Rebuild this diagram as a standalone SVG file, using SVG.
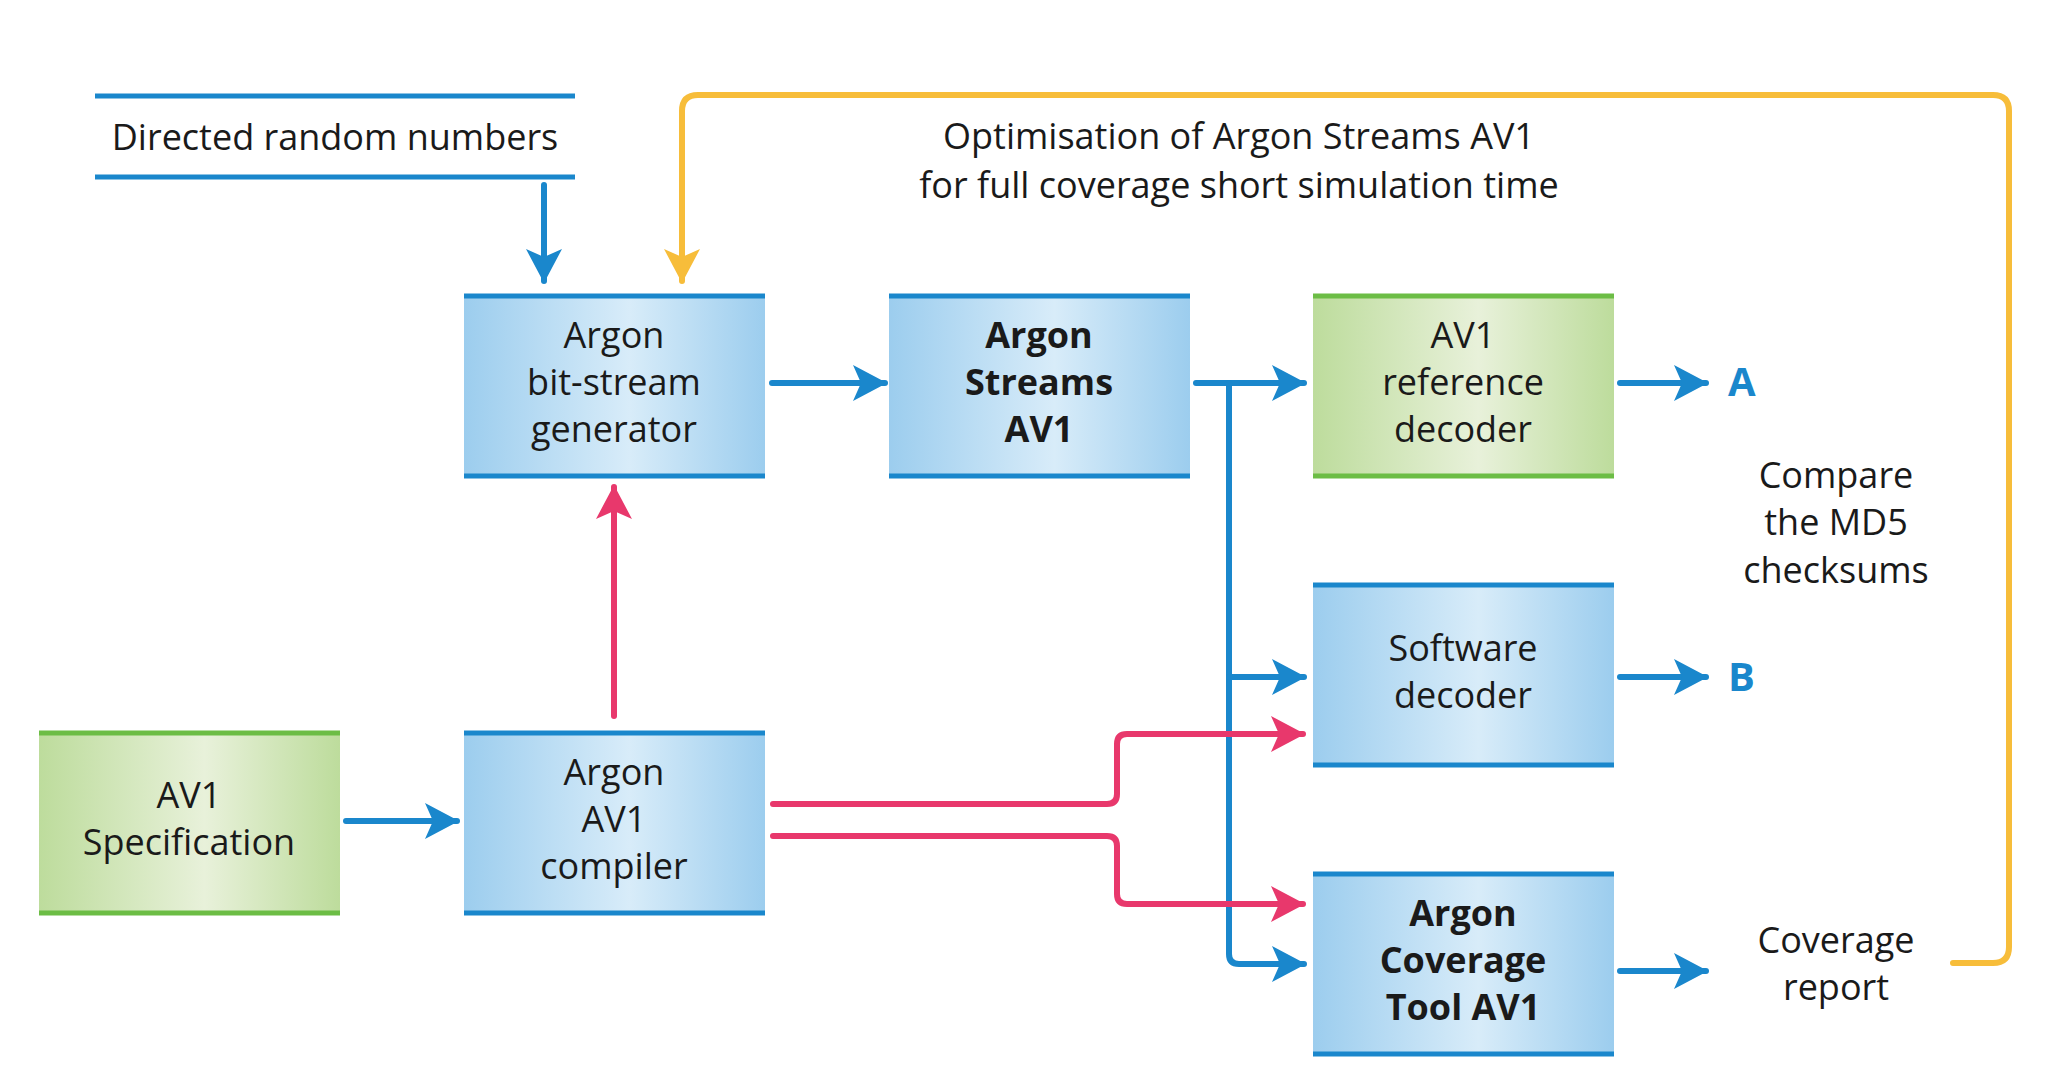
<svg xmlns="http://www.w3.org/2000/svg" width="2048" height="1092" viewBox="0 0 2048 1092">
<defs>
<linearGradient id="gb" x1="0" x2="1" y1="0" y2="0"><stop offset="0" stop-color="#9ccdee"/><stop offset="0.55" stop-color="#d8ecf9"/><stop offset="1" stop-color="#9ccdee"/></linearGradient>
<linearGradient id="gg" x1="0" x2="1" y1="0" y2="0"><stop offset="0" stop-color="#bddc9c"/><stop offset="0.55" stop-color="#e8f1da"/><stop offset="1" stop-color="#bddc9c"/></linearGradient>
<marker id="ab" markerUnits="userSpaceOnUse" markerWidth="40" markerHeight="40" viewBox="0 0 40 40" refX="34" refY="20" orient="auto"><path d="M2,2 L36,20 L2,38 L10,20 Z" fill="#1a87cc"/></marker>
<marker id="ap" markerUnits="userSpaceOnUse" markerWidth="40" markerHeight="40" viewBox="0 0 40 40" refX="34" refY="20" orient="auto"><path d="M2,2 L36,20 L2,38 L10,20 Z" fill="#e8386c"/></marker>
<marker id="ay" markerUnits="userSpaceOnUse" markerWidth="40" markerHeight="40" viewBox="0 0 40 40" refX="34" refY="20" orient="auto"><path d="M2,2 L36,20 L2,38 L10,20 Z" fill="#f7bd3a"/></marker>
<style>
text{font-family:"Open Sans","Liberation Sans",sans-serif;font-size:36px;fill:#1a1a1a;text-anchor:middle}
.b{font-weight:bold}
.L{font-size:40px;fill:#1a87cc;font-weight:bold;text-anchor:start}
.bb{stroke:#1a87cc;stroke-width:5}
.gl{stroke:#6cbd45;stroke-width:5}
.c{fill:none;stroke-width:6;stroke-linecap:round;stroke-linejoin:round}
.cb{stroke:#1a87cc}.cp{stroke:#e8386c}.cy{stroke:#f7bd3a}
</style>
</defs>
<g id="directed">
<line x1="95" y1="96" x2="575" y2="96" class="bb"/><line x1="95" y1="177" x2="575" y2="177" class="bb"/>
<text x="335" y="150">Directed random numbers</text>
</g>
<g id="title"><text x="1239" y="149">Optimisation of Argon Streams AV1</text><text x="1239" y="198">for full coverage short simulation time</text></g>
<g id="gen"><rect x="464" y="296" width="301" height="180" fill="url(#gb)"/><line x1="464" y1="296" x2="765" y2="296" class="bb"/><line x1="464" y1="476" x2="765" y2="476" class="bb"/>
<text x="614" y="348">Argon</text><text x="614" y="395">bit-stream</text><text x="614" y="442">generator</text></g>
<g id="streams"><rect x="889" y="296" width="301" height="180" fill="url(#gb)"/><line x1="889" y1="296" x2="1190" y2="296" class="bb"/><line x1="889" y1="476" x2="1190" y2="476" class="bb"/>
<text x="1039" y="348" class="b">Argon</text><text x="1039" y="395" class="b">Streams</text><text x="1039" y="442" class="b">AV1</text></g>
<g id="ref"><rect x="1313" y="296" width="301" height="180" fill="url(#gg)"/><line x1="1313" y1="296" x2="1614" y2="296" class="gl"/><line x1="1313" y1="476" x2="1614" y2="476" class="gl"/>
<text x="1463" y="348">AV1</text><text x="1463" y="395">reference</text><text x="1463" y="442">decoder</text></g>
<g id="sw"><rect x="1313" y="585" width="301" height="180" fill="url(#gb)"/><line x1="1313" y1="585" x2="1614" y2="585" class="bb"/><line x1="1313" y1="765" x2="1614" y2="765" class="bb"/>
<text x="1463" y="661">Software</text><text x="1463" y="708">decoder</text></g>
<g id="cov"><rect x="1313" y="874" width="301" height="180" fill="url(#gb)"/><line x1="1313" y1="874" x2="1614" y2="874" class="bb"/><line x1="1313" y1="1054" x2="1614" y2="1054" class="bb"/>
<text x="1463" y="926" class="b">Argon</text><text x="1463" y="973" class="b">Coverage</text><text x="1463" y="1020" class="b">Tool AV1</text></g>
<g id="spec"><rect x="39" y="733" width="301" height="180" fill="url(#gg)"/><line x1="39" y1="733" x2="340" y2="733" class="gl"/><line x1="39" y1="913" x2="340" y2="913" class="gl"/>
<text x="189" y="808">AV1</text><text x="189" y="855">Specification</text></g>
<g id="compiler"><rect x="464" y="733" width="301" height="180" fill="url(#gb)"/><line x1="464" y1="733" x2="765" y2="733" class="bb"/><line x1="464" y1="913" x2="765" y2="913" class="bb"/>
<text x="614" y="785">Argon</text><text x="614" y="832">AV1</text><text x="614" y="879">compiler</text></g>
<g id="labels">
<text x="1728" y="396" class="L">A</text><text x="1728" y="691" class="L">B</text>
<text x="1836" y="488">Compare</text><text x="1836" y="535">the MD5</text><text x="1836" y="583">checksums</text>
<text x="1836" y="953">Coverage</text><text x="1836" y="1000">report</text>
</g>
<g id="connectors">
<line x1="544" y1="185" x2="544" y2="281" class="c cb" marker-end="url(#ab)"/>
<path d="M1953,963 H1993 Q2009,963 2009,947 V111 Q2009,95 1993,95 H698 Q682,95 682,111 V281" class="c cy" marker-end="url(#ay)"/>
<line x1="772" y1="383" x2="885" y2="383" class="c cb" marker-end="url(#ab)"/>
<line x1="1196" y1="383" x2="1304" y2="383" class="c cb" marker-end="url(#ab)"/>
<path d="M1229,383 V954 Q1229,964 1239,964 H1304" class="c cb" marker-end="url(#ab)"/>
<line x1="1229" y1="677" x2="1304" y2="677" class="c cb" marker-end="url(#ab)"/>
<line x1="1620" y1="383" x2="1706" y2="383" class="c cb" marker-end="url(#ab)"/>
<line x1="1620" y1="677" x2="1706" y2="677" class="c cb" marker-end="url(#ab)"/>
<line x1="1620" y1="971" x2="1706" y2="971" class="c cb" marker-end="url(#ab)"/>
<line x1="346" y1="821" x2="457" y2="821" class="c cb" marker-end="url(#ab)"/>
<line x1="614" y1="716" x2="614" y2="487" class="c cp" marker-end="url(#ap)"/>
<path d="M773,804 H1107 Q1117,804 1117,794 V744 Q1117,734 1127,734 H1303" class="c cp" marker-end="url(#ap)"/>
<path d="M773,836 H1107 Q1117,836 1117,846 V894 Q1117,904 1127,904 H1303" class="c cp" marker-end="url(#ap)"/>
</g>
</svg>
